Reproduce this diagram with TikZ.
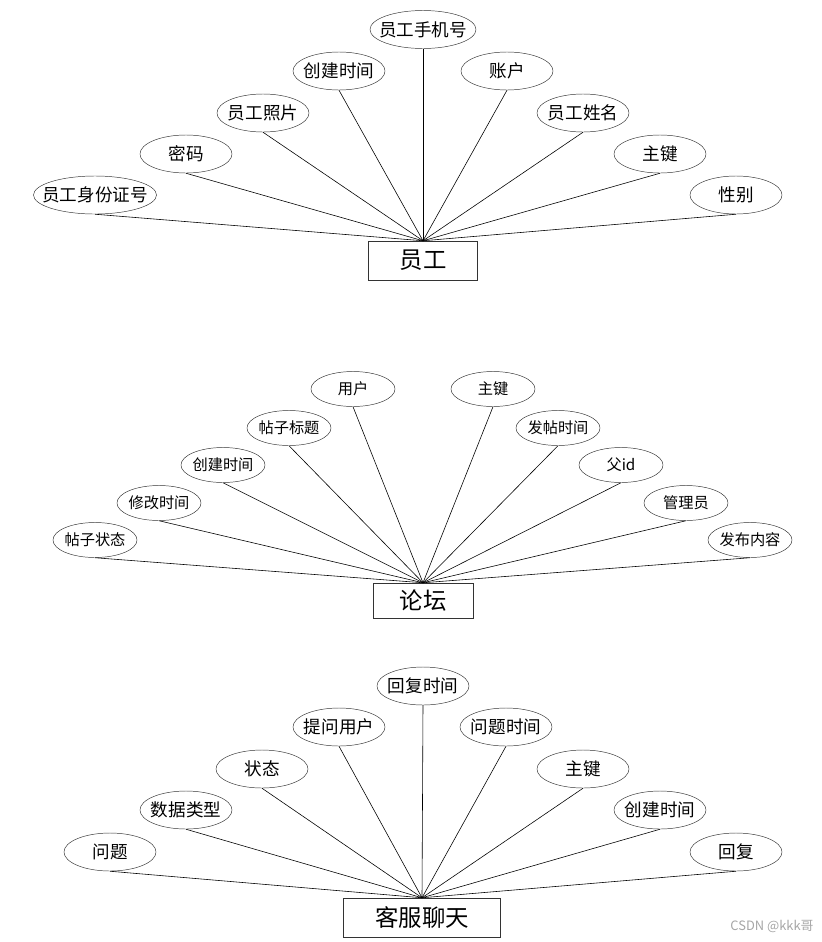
\documentclass[tikz,border=0pt]{standalone}
\usepackage{fontspec}
\setmainfont{Noto Sans CJK SC}
\usetikzlibrary{shapes.geometric}

\begin{document}
\begin{tikzpicture}[
        x=0.03cm, y=-0.03cm,
        attr/.style={ellipse, draw=black!80, thin, minimum width=2.76cm, minimum height=1.14cm, inner xsep=-6pt, inner ysep=1pt, font=\fontsize{15}{17}\selectfont},
        attrs/.style={attr, minimum width=2.52cm, minimum height=1.05cm, font=\fontsize{13}{15}\selectfont},
        entity/.style={rectangle, draw=black!80, thin, minimum height=1.17cm, font=\fontsize{20}{24}\selectfont},
        link/.style={black, line width=0.5pt}
    ]
    \useasboundingbox (0,0) rectangle (822,942);

    % employee
    \node[entity, minimum width=3.27cm] (emp) at (423, 260.5) {员工};
    \node[attr, minimum width=3.18cm] (phone)  at (423, 29.5) {员工手机号};
    \node[attr] (ctime1)  at (339, 71)  {创建时间};
    \node[attr] (account) at (507, 71)  {账户};
    \node[attr] (photo)   at (263, 113) {员工照片};
    \node[attr] (ename)   at (583, 113) {员工姓名};
    \node[attr] (pwd)     at (186, 154) {密码};
    \node[attr] (pk1)     at (660, 154) {主键};
    \node[attr, minimum width=3.69cm, inner xsep=-8pt] (idcard) at (95, 195) {员工身份证号};
    \node[attr] (sex)     at (736, 195) {性别};
    \draw[link] (phone.south)   -- (emp.north);
    \draw[link] (ctime1.south)  -- (emp.north);
    \draw[link] (account.south) -- (emp.north);
    \draw[link] (photo.south)   -- (emp.north);
    \draw[link] (ename.south)   -- (emp.north);
    \draw[link] (pwd.south)     -- (emp.north);
    \draw[link] (pk1.south)     -- (emp.north);
    \draw[link] (idcard.south)  -- (emp.north);
    \draw[link] (sex.south)     -- (emp.north);

    % forum
    \node[entity, minimum width=3.0cm, minimum height=1.05cm] (forum) at (423, 600.5) {论坛};
    \node[attrs] (user)    at (353, 389) {用户};
    \node[attrs] (pk2)     at (493, 389) {主键};
    \node[attrs] (title)   at (289, 428) {帖子标题};
    \node[attrs] (ptime)   at (558, 428) {发帖时间};
    \node[attrs] (ctime2)  at (223, 465) {创建时间};
    \node[attrs] (parent)  at (621, 465) {父id};
    \node[attrs] (mtime)   at (159, 503) {修改时间};
    \node[attrs] (admin)   at (686, 503) {管理员};
    \node[attrs] (state2)  at (95, 540)  {帖子状态};
    \node[attrs] (content) at (750, 540) {发布内容};
    \draw[link] (user.south)    -- (forum.north);
    \draw[link] (pk2.south)     -- (forum.north);
    \draw[link] (title.south)   -- (forum.north);
    \draw[link] (ptime.south)   -- (forum.north);
    \draw[link] (ctime2.south)  -- (forum.north);
    \draw[link] (parent.south)  -- (forum.north);
    \draw[link] (mtime.south)   -- (forum.north);
    \draw[link] (admin.south)   -- (forum.north);
    \draw[link] (state2.south)  -- (forum.north);
    \draw[link] (content.south) -- (forum.north);

    % customer service chat
    \node[entity, minimum width=4.71cm] (chat) at (422, 917.5) {客服聊天};
    \node[attr] (rtime)    at (423, 686) {回复时间};
    \node[attr] (asker)    at (339, 727) {提问用户};
    \node[attr] (qtime)    at (506, 727) {问题时间};
    \node[attr] (state3)   at (262, 769) {状态};
    \node[attr] (pk3)      at (583, 769) {主键};
    \node[attr] (dtype)    at (186, 810) {数据类型};
    \node[attr] (ctime3)   at (660, 810) {创建时间};
    \node[attr] (question) at (110, 852) {问题};
    \node[attr] (reply)    at (736, 852) {回复};
    \draw[link] (rtime.south)    -- (chat.north);
    \draw[link] (asker.south)    -- (chat.north);
    \draw[link] (qtime.south)    -- (chat.north);
    \draw[link] (state3.south)   -- (chat.north);
    \draw[link] (pk3.south)      -- (chat.north);
    \draw[link] (dtype.south)    -- (chat.north);
    \draw[link] (ctime3.south)   -- (chat.north);
    \draw[link] (question.south) -- (chat.north);
    \draw[link] (reply.south)    -- (chat.north);

    \node[text=black!35, font=\fontsize{11}{13}\selectfont] (mark) at (772, 926) {CSDN @kkk哥};
\end{tikzpicture}
\end{document}
